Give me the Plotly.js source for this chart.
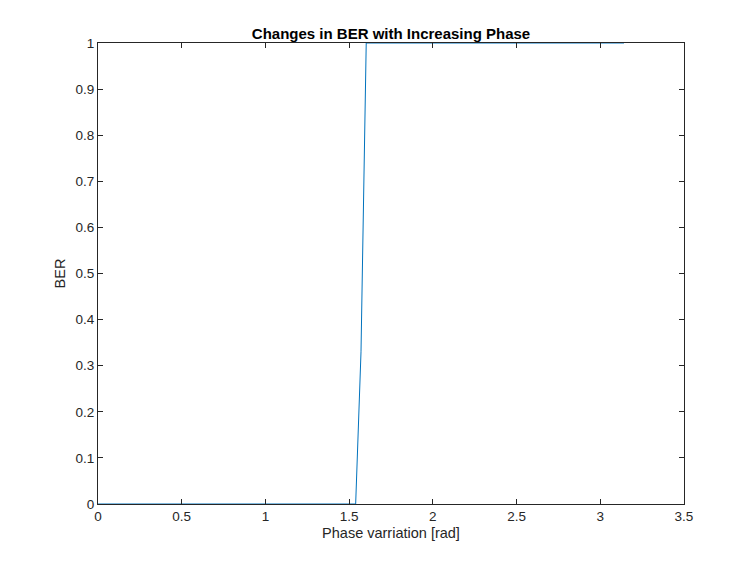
<!DOCTYPE html>
<html>
<head>
<meta charset="utf-8">
<script src="https://cdn.plot.ly/plotly-3.0.1.min.js"></script>
<style>
  html, body { margin: 0; padding: 0; background: #fff; }
  #chart { width: 754px; height: 566px; }
</style>
</head>
<body>
<div id="chart"></div>
<script>
// ---- Data ----
const phase = [0, 1.539, 1.5708, 1.602, 3.1416];
const ber   = [0, 0, 0.33, 1, 1];

const xTicks = [0, 0.5, 1, 1.5, 2, 2.5, 3, 3.5];
const yTicks = [0, 0.1, 0.2, 0.3, 0.4, 0.5, 0.6, 0.7, 0.8, 0.9, 1];

const FONT = 'Liberation Sans, Arial, sans-serif';

const axisCommon = {
  showgrid: false,
  zeroline: false,
  showline: true,
  linecolor: '#262626',
  linewidth: 1,
  mirror: 'ticks',
  ticks: 'inside',
  ticklen: 5,
  tickcolor: '#262626',
  tickfont: { family: FONT, size: 13.5, color: '#262626' },
};

Plotly.newPlot('chart', [
  {
    x: phase,
    y: ber,
    type: 'scatter',
    mode: 'lines',
    line: { color: '#0072BD', width: 1 },
    hoverinfo: 'x+y',
  },
], {
  width: 754,
  height: 566,
  paper_bgcolor: '#fff',
  plot_bgcolor: '#fff',
  showlegend: false,
  margin: { l: 98, r: 70, t: 43, b: 62 },
  title: {
    text: '<b>Changes in BER with Increasing Phase</b>',
    font: { family: FONT, size: 15, color: '#000' },
    x: 0.5, xref: 'paper', xanchor: 'center',
    y: 1, yref: 'paper', yanchor: 'bottom', pad: { b: 4 },
  },
  xaxis: {
    ...axisCommon,
    range: [0, 3.5],
    tickvals: xTicks,
    ticktext: xTicks.map(String),
    title: { text: 'Phase varriation [rad]', font: { family: FONT, size: 14.5, color: '#262626' }, standoff: 4 },
  },
  yaxis: {
    ...axisCommon,
    range: [0, 1],
    tickvals: yTicks,
    ticktext: yTicks.map(String),
    title: { text: 'BER', font: { family: FONT, size: 14.5, color: '#262626' }, standoff: 6 },
  },
}, { displayModeBar: false, staticPlot: true });
</script>
</body>
</html>
